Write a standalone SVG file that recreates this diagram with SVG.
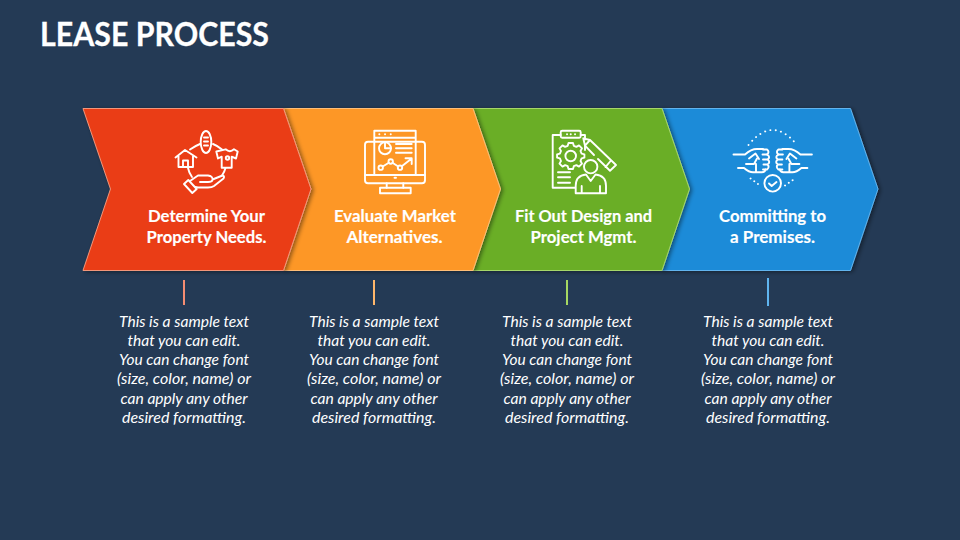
<svg xmlns="http://www.w3.org/2000/svg" xmlns:xlink="http://www.w3.org/1999/xlink" width="960" height="540" viewBox="0 0 960 540">
<style>
.t{font-family:Lato,"Liberation Sans",sans-serif;fill:#fff;text-anchor:middle}
.title{font-size:33px;font-weight:700;text-anchor:start;stroke:#fff;stroke-width:.3}
.h{font-size:16.8px;font-weight:700;stroke:#fff;stroke-width:.15}
.b{font-size:15px;font-style:italic}
.i{fill:none;stroke:#fff;stroke-width:1.9;stroke-linecap:round;stroke-linejoin:round}
.tick{fill:none;stroke-width:2}
</style>
<defs>
<filter id="s" x="-10%" y="-10%" width="120%" height="120%"><feDropShadow dx="2" dy="1" stdDeviation="2" flood-color="#000" flood-opacity=".45"/></filter>
<g id="body">
<text class="t b" y="326.5" textLength="130" lengthAdjust="spacingAndGlyphs">This is a sample text</text>
<text class="t b" y="345.7" textLength="113" lengthAdjust="spacingAndGlyphs">that you can edit.</text>
<text class="t b" y="365" textLength="130" lengthAdjust="spacingAndGlyphs">You can change font</text>
<text class="t b" y="384.2" textLength="134" lengthAdjust="spacingAndGlyphs">(size, color, name) or</text>
<text class="t b" y="403.5" textLength="127" lengthAdjust="spacingAndGlyphs">can apply any other</text>
<text class="t b" y="422.7" textLength="124" lengthAdjust="spacingAndGlyphs">desired formatting.</text>
</g>
<g id="fist" class="i">
<path d="M733.500 154.500H745Q751 149 757 149H763"/>
<path d="M749 158.500L755.500 153.500L759 159"/>
<path d="M763 149.500H767Q770 152 767 154.500H762.500"/>
<path d="M767 154.500Q771 157 767.500 159.500H763M767.500 159.500Q771 162 767.500 164.500H763.500M767.500 164.500Q770 167 767 169.500H763"/>
<path d="M738 168H744Q749 172.300 753 172.300H762Q765 172 765.500 169.500"/>
<path d="M746 164H754L757 158.500M756 164V172"/>
</g>
</defs>
<rect width="960" height="540" fill="#243A55"/>
<text class="t title" x="40" y="45.500" textLength="229" lengthAdjust="spacingAndGlyphs">LEASE PROCESS</text>
<g id="chevrons">
<g id="node-4"><path d="M662 108.500H850.500L878 189L850.500 270.500H662L689.500 189Z" fill="#1A8BD8" stroke="#62B4EE" filter="url(#s)"/></g>
<g id="node-3"><path d="M473 108.500H662L689.500 189L662 270.500H473L500.500 189Z" fill="#6BAE26" stroke="#A6D66A" filter="url(#s)"/></g>
<g id="node-2"><path d="M283.500 108.500H473L500.500 189L473 270.500H283.500L311 189Z" fill="#FD9727" stroke="#FFBE78" filter="url(#s)"/></g>
<g id="node-1"><path d="M83 108.500H283.500L311 189L283.500 270.500H83L110.500 189Z" fill="#EA3C13" stroke="#F3967A" filter="url(#s)"/></g>
</g>
<g id="icon-1" class="i">
<ellipse cx="206" cy="142" rx="5.300" ry="11"/>
<path d="M204 137.500H208M204 141.500H208M204 145.500H208"/>
<path d="M190 149.500Q195 146 200 144M213 144Q218 146 222 149.500M188 168Q189 173 192 177M225.500 168Q224.500 172 222 175.500"/>
<path d="M175.500 157.500L185 150L196.500 157.500M178.500 156V167H193V156M183 167V160.500H188V167"/>
<path d="M225.700 149.300Q229.800 153 234 149.300L237.700 151.500L236 158.500L231.700 156.700V167.700H221.700V156.700L218 158.500L216.300 151.500Z"/>
<circle cx="227.500" cy="158" r="1.700"/>
<path d="M184 184L188.300 180L196.700 189L192.300 193Z"/>
<path d="M190 181L198 175.500H208Q213 176 212.500 180Q212 182 208 182H200M212.500 179.500L222.500 175.500Q225 176 223.500 178.500L214 186Q212 187.500 208 187.500H198L195.500 187"/>
</g>
<g id="icon-2" class="i">
<rect x="365" y="141.700" width="60" height="41.600" rx="3"/>
<path d="M374.300 175V130.700H415.700V175M365 175H425M374.300 137.700H415.700"/>
<path d="M379.300 134.300h.1M385 134.300h.1M390.700 134.300h.1M394.500 177.800h1.500"/>
<circle cx="385" cy="148.300" r="6"/>
<path d="M385 142.300V148.300H391M396 144H411.700M396 148.300H411.700M396 152.700H411.700"/>
<circle cx="380.700" cy="167.700" r="2.200"/>
<circle cx="390.700" cy="161.500" r="2.200"/>
<circle cx="400" cy="167.700" r="2.200"/>
<path d="M382.700 166.500L388.800 162.700M392.500 162.700L398.200 166.500M401.800 166.300L411.700 158.500M405.500 158.300H411.700V164"/>
<path d="M386.700 183.300V187.700M403.300 183.300V187.700"/>
<rect x="380" y="187.700" width="30.700" height="5.600"/>
</g>
<g id="icon-3" class="i">
<path d="M575 187.700H552.700V135H560.700M580.700 135H585V139.500M585 146V150"/>
<rect x="560.700" y="130.700" width="20" height="7" rx="1.500"/>
<path d="M567 134.300h.1M570.700 134.300h.1M575 134.300h.1"/>
<path d="M568.500 143H573L573.800 145.800L576.400 146.900L579 145.400L582 148.400L580.500 151L581.600 153.600L584.400 154.300V157.700L581.600 158.400L580.500 161L582 163.600L579 166.600L576.400 165.100L573.800 166.200L573 169H568.500L567.700 166.200L565.100 165.100L562.500 166.600L559.500 163.600L561 161L559.900 158.400L557.100 157.700V154.300L559.900 153.600L561 151L559.500 148.400L562.500 145.400L565.100 146.900L567.700 145.800Z"/>
<circle cx="570.700" cy="156" r="5.300"/>
<path d="M558 172.300H570M558 177.300H570M558 182.700H570"/>
<circle cx="590.700" cy="166.700" r="6.700"/>
<path d="M575.700 193.300V186Q575.700 175.500 586 174.500L590.700 181L595.500 174.500Q606 175.500 606 186V193.300ZM581.700 186V193.300M600 186V193.300"/>
<path d="M585 145.700L583.300 138.300L590 140L616 165L610 170.700L598 159M585 145.700L594 155M605.500 167L611 160.500M585 145.700L590 140"/>
</g>
<g id="icon-4" class="i">
<path d="M748.500 145Q772.700 115 797 145" stroke-dasharray=".1 5.300"/>
<path d="M750.500 178.500L760 185.500M785 185.500L795 178.500" stroke-dasharray=".1 4.500"/>
<circle cx="772.700" cy="183.300" r="8.300"/>
<path d="M769 183.500L771.700 186L776.500 182"/>
<use xlink:href="#fist" href="#fist"/>
<use xlink:href="#fist" href="#fist" transform="translate(1545.400 0) scale(-1 1)"/>
</g>
<g id="labels">
<text class="t h" x="206.500" y="221.500" textLength="117" lengthAdjust="spacingAndGlyphs">Determine Your</text>
<text class="t h" x="206.500" y="242.500" textLength="120" lengthAdjust="spacingAndGlyphs">Property Needs.</text>
<text class="t h" x="395" y="221.500" textLength="122" lengthAdjust="spacingAndGlyphs">Evaluate Market</text>
<text class="t h" x="394.500" y="242.500" textLength="96" lengthAdjust="spacingAndGlyphs">Alternatives.</text>
<text class="t h" x="583.500" y="221.500" textLength="137" lengthAdjust="spacingAndGlyphs">Fit Out Design and</text>
<text class="t h" x="583.500" y="242.500" textLength="106" lengthAdjust="spacingAndGlyphs">Project Mgmt.</text>
<text class="t h" x="772.500" y="221.500" textLength="107" lengthAdjust="spacingAndGlyphs">Committing to</text>
<text class="t h" x="772.500" y="242.500" textLength="85" lengthAdjust="spacingAndGlyphs">a Premises.</text>
</g>
<g id="connectors">
<path class="tick" d="M184 280V305" stroke="#F58D72"/>
<path class="tick" d="M374 280V305" stroke="#FFB76B"/>
<path class="tick" d="M567 280V305" stroke="#A6D862"/>
<path class="tick" d="M768 278V306" stroke="#5FB5F0"/>
</g>
<use xlink:href="#body" href="#body" x="184"/>
<use xlink:href="#body" href="#body" x="374"/>
<use xlink:href="#body" href="#body" x="567"/>
<use xlink:href="#body" href="#body" x="768"/>
</svg>
